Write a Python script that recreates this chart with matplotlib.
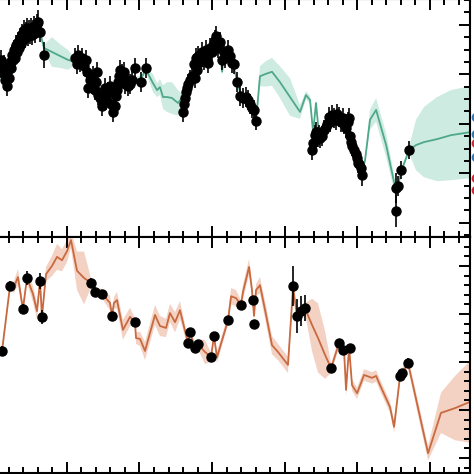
import numpy as np
import matplotlib.pyplot as plt
from matplotlib.ticker import MultipleLocator

# ---------------- data: upper panel (observations) ----------------
top_x = [0.39, 0.46, 0.60, 0.67, 0.73, 0.80, 0.87, 0.94, 1.01, 1.08, 1.15, 1.22, 1.29, 1.35,
         1.42, 1.49, 1.56, 1.63, 1.70, 1.77, 1.84, 1.91, 1.97, 2.04, 2.11, 2.18, 2.25, 2.32,
         2.39, 2.46, 2.53, 2.59, 2.66, 2.73, 2.80, 2.87, 2.94, 3.01, 3.15, 3.42,
         5.56, 5.70, 5.76, 5.90, 6.04, 6.18, 6.31, 6.38, 6.45, 6.59, 6.73, 6.80, 6.94, 7.00,
         7.07, 7.14, 7.28, 7.42, 7.56, 7.62, 7.69, 7.83, 7.97, 8.04, 8.18, 8.31, 8.38, 8.45,
         8.52, 8.59, 8.66, 8.73, 8.80, 8.93, 9.00, 9.14, 9.21, 9.35, 9.48, 9.69, 10.10, 10.45,
         13.00, 13.07, 13.14, 13.21, 13.27, 13.34, 13.48, 13.62, 13.76, 13.83, 13.89, 13.96,
         14.03, 14.17, 14.31, 14.45, 14.58, 14.65, 14.72, 14.86, 15.00, 15.07, 15.20, 15.27,
         15.34, 15.41, 15.55, 15.69, 15.82, 15.89, 16.10, 16.24, 16.37, 16.51, 16.72, 16.93,
         17.13, 17.34, 17.48, 17.62, 17.75, 17.89, 18.03,
         21.89, 21.96, 22.09, 22.16, 22.30, 22.37, 22.44, 22.58, 22.71, 22.85, 22.92, 23.06,
         23.13, 23.26, 23.40, 23.54, 23.61, 23.75, 23.88, 24.02, 24.09, 24.23, 24.37, 24.44,
         24.51, 24.57, 24.64, 24.78, 24.92, 24.99, 25.06, 25.13, 25.26, 25.33,
         27.67, 27.67, 27.81, 28.02, 28.57]
top_y = [3.13, 3.29, 3.05, 3.19, 2.88, 3.01, 2.76, 3.09, 2.92, 3.25, 3.13, 3.39, 3.29, 3.49,
         3.33, 3.59, 3.45, 3.65, 3.53, 3.73, 3.61, 3.81, 3.69, 3.89, 3.73, 3.85, 3.93, 3.77,
         3.89, 3.81, 3.93, 3.79, 3.89, 3.97, 3.83, 3.93, 4.02, 4.06, 3.85, 3.39,
         3.33, 3.21, 3.39, 3.25, 3.33, 3.17, 3.29, 3.05, 2.72, 2.88, 2.80, 2.96, 2.68, 2.84,
         3.05, 2.58, 2.52, 2.36, 2.56, 2.72, 2.48, 2.64, 2.76, 2.40, 2.24, 2.36, 2.56, 2.68,
         2.84, 2.96, 3.09, 2.88, 3.01, 3.05, 2.80, 2.88, 2.76, 2.80, 2.88, 3.13, 2.84, 3.13,
         2.24, 2.40, 2.52, 2.64, 2.72, 2.80, 2.88, 2.96, 3.21, 2.92, 3.33, 3.09,
         3.37, 3.25, 3.45, 3.29, 3.49, 3.39, 3.23, 3.53, 3.45, 3.59, 3.69, 3.77,
         3.61, 3.53, 3.65, 3.29, 3.45, 3.33, 3.49, 3.37, 3.23, 3.21, 2.84, 2.56,
         2.52, 2.54, 2.48, 2.40, 2.32, 2.28, 2.06,
         1.47, 1.61, 1.77, 1.83, 1.73, 1.77, 1.71, 1.75, 1.87, 1.93, 2.00, 2.14,
         2.04, 2.18, 2.12, 2.08, 2.20, 2.14, 2.04, 2.12, 2.00, 1.91, 2.04, 2.12,
         1.75, 1.63, 1.55, 1.47, 1.39, 1.31, 1.21, 1.19, 1.11, 0.97,
         0.70, 0.24, 0.74, 1.07, 1.47]
top_err = [0.20] * 37 + [0.24, 0.20, 0.26] + [0.20] * 42 + [0.20] * 42 + [0.18] \
          + [0.20] * 33 + [0.22] + [0.30, 0.32, 0.20, 0.18, 0.18]

# upper panel model (mean and 1-sigma)
top_mx = [0.05, 0.73, 1.22, 1.77, 2.46, 3.01, 3.42, 3.97, 4.52, 5.08, 5.56, 6.31, 6.94, 7.62,
          8.18, 8.66, 9.35, 10.10, 10.45, 10.93, 11.21, 11.41, 11.62, 11.90, 12.24, 12.65,
          12.93, 13.07, 13.48, 14.17, 14.72, 15.27, 15.55, 15.69, 15.82, 16.37, 16.93, 17.62,
          18.03, 18.30, 18.72, 19.13, 19.68, 20.37, 21.06, 21.47, 21.75, 21.96, 22.16, 22.37,
          22.85, 23.26, 23.81, 24.23, 24.51, 24.92, 25.33, 25.54, 25.88, 26.30, 26.99, 27.54,
          27.67, 28.02, 28.57, 29.05, 29.60, 30.50, 31.46, 32.77, 33.46]
top_my = [3.05, 2.88, 3.29, 3.69, 3.85, 4.02, 3.53, 3.45, 3.37, 3.29, 3.25, 3.21, 2.78, 2.58,
          2.38, 2.92, 2.84, 2.92, 3.09, 2.82, 2.68, 2.74, 2.54, 2.54, 2.52, 2.42,
          2.52, 2.36, 2.84, 3.33, 3.37, 3.65, 3.53, 3.05, 3.39, 3.29, 2.64, 2.40,
          2.06, 2.96, 3.01, 3.05, 2.84, 2.54, 2.24, 2.58, 2.48, 1.83, 2.42, 1.77,
          1.91, 2.12, 2.12, 2.00, 1.77, 1.43, 1.01, 1.27, 2.08, 2.28, 1.57, 0.82,
          0.56, 1.03, 1.47, 1.57, 1.63, 1.69, 1.77, 1.83, 1.85]
top_ms = [0.06, 0.06, 0.06, 0.06, 0.06, 0.06, 0.06, 0.30, 0.24, 0.20, 0.06, 0.06, 0.06, 0.06,
          0.06, 0.06, 0.06, 0.06, 0.06, 0.18, 0.14, 0.16, 0.24, 0.30, 0.32, 0.26,
          0.08, 0.06, 0.06, 0.06, 0.06, 0.06, 0.06, 0.06, 0.06, 0.06, 0.06, 0.06,
          0.04, 0.20, 0.26, 0.28, 0.32, 0.38, 0.14, 0.08, 0.08, 0.08, 0.06, 0.06,
          0.06, 0.06, 0.06, 0.06, 0.06, 0.06, 0.06, 0.08, 0.20, 0.24, 0.24, 0.16,
          0.06, 0.06, 0.06, 0.51, 0.71, 0.85, 0.91, 0.93, 0.95]

# neighbouring panel (only its left edge shows)
side_blue = [2.14, 1.80, 1.33]
side_red = [1.62, 0.91, 0.67]

# ---------------- data: lower panel ----------------
bot_x = [0.53, 1.08, 1.97, 2.25, 3.15, 3.28, 6.66, 6.94, 7.42, 8.11, 9.69, 13.34, 13.48,
         13.83, 14.03, 14.93, 15.13, 16.10, 16.99, 17.82, 17.89, 20.58, 20.85, 21.13, 21.40,
         23.20, 23.75, 24.02, 24.51, 27.95, 28.09, 28.50]
bot_y = [2.23, 3.58, 3.10, 3.75, 3.69, 2.94, 3.65, 3.46, 3.42, 2.96, 2.83, 2.40, 2.62,
         2.29, 2.37, 2.10, 2.54, 2.87, 3.19, 3.29, 2.79, 3.58, 2.96, 3.06, 3.12,
         1.87, 2.40, 2.25, 2.29, 1.71, 1.77, 1.98]
bot_err = [0.10, 0.10, 0.10, 0.15, 0.17, 0.15, 0.10, 0.10, 0.08, 0.08, 0.08, 0.08, 0.08,
           0.08, 0.08, 0.08, 0.08, 0.08, 0.08, 0.08, 0.08, 0.42, 0.35, 0.31, 0.27,
           0.08, 0.08, 0.08, 0.08, 0.08, 0.08, 0.10]

bot_mx = [0.05, 0.53, 1.08, 1.35, 1.63, 1.97, 2.25, 2.66, 2.94, 3.15, 3.28, 3.56, 3.97, 4.32,
          4.66, 5.01, 5.28, 5.70, 6.18, 6.66, 6.94, 7.42, 7.97, 8.11, 8.24, 8.45, 8.86, 9.35,
          9.69, 9.76, 10.04, 10.38, 11.07, 11.41, 11.83, 12.10, 12.45, 12.79, 13.34, 13.48,
          13.83, 14.03, 14.51, 14.93, 15.13, 15.34, 16.10, 16.31, 16.65, 16.99, 17.13, 17.55,
          17.75, 17.89, 18.03, 18.30, 18.72, 19.13, 19.54, 20.23, 20.58, 20.85, 21.13, 21.40,
          21.89, 22.30, 22.78, 23.20, 23.75, 24.09, 24.23, 24.44, 24.64, 24.99, 25.47, 26.02,
          26.30, 26.57, 27.26, 27.54, 27.95, 28.09, 28.50, 29.19, 29.88, 30.77, 31.74, 32.77,
          33.46]
bot_my = [2.12, 2.23, 3.58, 3.56, 3.77, 3.10, 3.75, 3.42, 3.06, 3.69, 2.94, 3.83, 4.00, 4.19,
          4.12, 4.31, 4.54, 3.90, 3.75, 3.65, 3.46, 3.42, 3.23, 2.96, 3.23, 3.29, 2.67, 2.94,
          2.83, 2.50, 2.48, 2.23, 2.98, 2.75, 2.71, 3.02, 2.83, 3.08, 2.40, 2.62,
          2.29, 2.37, 2.21, 2.10, 2.54, 2.10, 2.87, 3.37, 3.33, 3.19, 3.46, 3.98,
          3.50, 2.96, 3.50, 3.60, 2.98, 2.35, 2.21, 1.94, 3.56, 2.96, 3.06, 3.12,
          2.77, 2.50, 2.15, 1.87, 2.40, 2.25, 1.42, 2.31, 1.52, 1.35, 1.73, 1.67,
          1.71, 1.52, 1.06, 0.65, 1.71, 1.77, 1.98, 1.04, 0.10, 0.94, 1.04, 1.17,
          1.23]
bot_ms = [0.10, 0.08, 0.08, 0.12, 0.17, 0.08, 0.10, 0.17, 0.17, 0.08, 0.08, 0.15, 0.21, 0.27,
          0.23, 0.23, 0.17, 0.40, 0.55, 0.10, 0.10, 0.10, 0.15, 0.08, 0.12, 0.17, 0.21, 0.19,
          0.08, 0.12, 0.15, 0.19, 0.21, 0.21, 0.19, 0.19, 0.21, 0.19, 0.08, 0.08,
          0.08, 0.10, 0.25, 0.10, 0.08, 0.12, 0.10, 0.17, 0.17, 0.10, 0.15, 0.17,
          0.12, 0.08, 0.12, 0.17, 0.19, 0.19, 0.17, 0.17, 0.10, 0.10, 0.10, 0.10,
          0.55, 0.72, 0.50, 0.10, 0.10, 0.10, 0.12, 0.10, 0.12, 0.12, 0.12, 0.12,
          0.12, 0.12, 0.12, 0.12, 0.10, 0.10, 0.10, 0.15, 0.15, 0.42, 0.67, 0.85,
          0.94]

green, green_band = '#4fa88b', '#cdebe1'
orange, orange_band = '#c9693f', '#f3d2c4'

fig = plt.figure(figsize=(4.74, 4.74), dpi=100)
# the visible area is a crop: the axes run off the left and top edges
ax1 = fig.add_axes([-0.0426, 0.5, 1.0342, 0.5021])
ax2 = fig.add_axes([-0.0426, 0.0021, 1.0342, 0.4979])
axs = fig.add_axes([0.9937, 0.5, 0.1, 0.5021], sharey=ax1)


def draw_panel(ax, mx, my, ms, px, py, pe, line_c, band_c):
    mx, my, ms = np.array(mx), np.array(my), np.array(ms)
    ax.fill_between(mx, my - ms, my + ms, color=band_c, lw=0, zorder=1)
    ax.plot(mx, my, color=line_c, lw=1.3, zorder=2)
    ax.errorbar(px, py, yerr=pe, fmt='o', color='black', ms=6.5,
                elinewidth=1.2, capsize=0, zorder=3)


draw_panel(ax1, top_mx, top_my, top_ms, top_x, top_y, top_err, green, green_band)
draw_panel(ax2, bot_mx, bot_my, bot_ms, bot_x, bot_y, bot_err, orange, orange_band)

ax1.set_ylim(-0.287, 4.52)
ax2.set_ylim(-0.312, 4.604)
for ax, ymaj, ymin in [(ax1, 1.0, 0.25), (ax2, 1.0, 0.2)]:
    ax.set_xlim(-1, 32.77)
    ax.xaxis.set_major_locator(MultipleLocator(5))
    ax.xaxis.set_minor_locator(MultipleLocator(1))
    ax.yaxis.set_major_locator(MultipleLocator(ymaj))
    ax.yaxis.set_minor_locator(MultipleLocator(ymin))
    ax.tick_params(which='both', direction='in', top=True, right=True, width=1.4,
                   labelbottom=False, labelleft=False)
    ax.tick_params(which='major', length=8)
    ax.tick_params(which='minor', length=4.3)
    for s in ax.spines.values():
        s.set_linewidth(1.5)

axs.plot([0.1] * len(side_blue), side_blue, 'o', color='#3b78b2', ms=6)
axs.plot([0.1] * len(side_red), side_red, 'o', color='#c62f3b', ms=6)
axs.set_xlim(0, 1)
axs.axis('off')

fig.savefig('out.png', dpi=100)
